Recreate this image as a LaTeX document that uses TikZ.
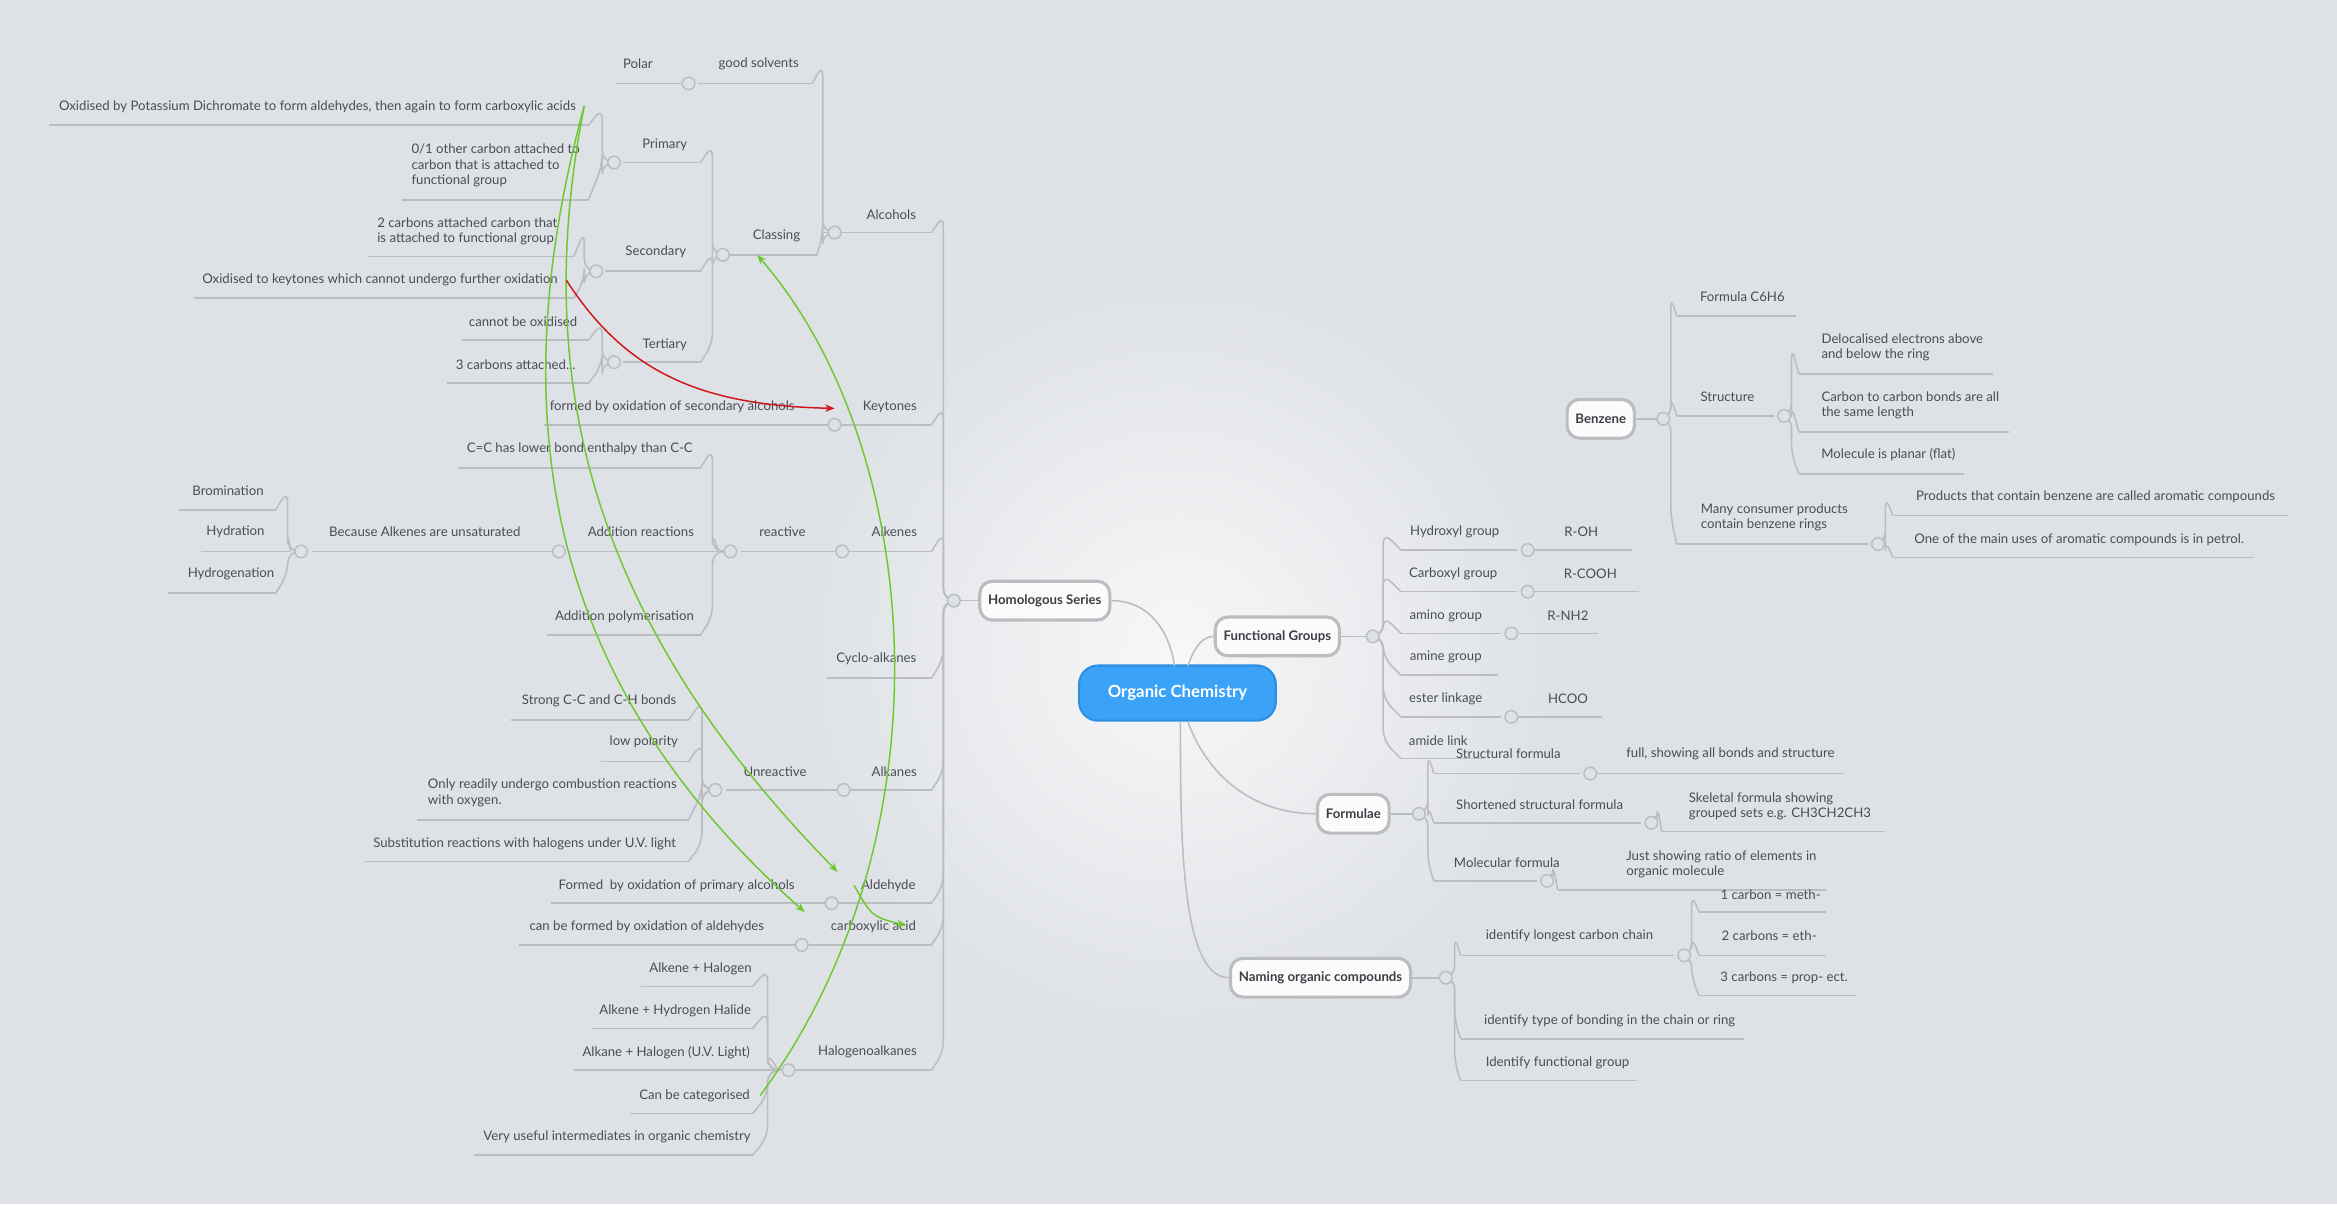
\documentclass[tikz,border=0pt]{standalone}
\usepackage{fontspec}
\setmainfont{Lato}
\usetikzlibrary{arrows.meta}
\definecolor{bg}{HTML}{DEE1E5}
\definecolor{ln}{HTML}{BCBDC1}
\definecolor{tx}{HTML}{4A4D55}
\definecolor{gr}{HTML}{6CC92E}
\definecolor{rd}{HTML}{D0161B}
\definecolor{bl}{HTML}{3AA3F7}
\definecolor{bld}{HTML}{2E8FE0}
\tikzset{
 txt/.style={font=\fontsize{12.6}{14.5}\selectfont, text=tx, inner sep=0pt, align=left},
 ln/.style={draw=ln, line width=1.5pt},
 jn/.style={circle, draw=ln, fill=bg, line width=1.4pt, minimum size=0.42cm, inner sep=0pt},
 br/.style={rounded corners=12pt, draw=ln, fill=white!60!bg!30!white, line width=3pt, font=\bfseries\fontsize{12.6}{14.5}\selectfont, text=tx!80!black, minimum height=1.3cm, inner xsep=8pt},
 ga/.style={draw=gr, line width=1.4pt, -{Stealth[length=9pt,width=7pt]}},
 ra/.style={draw=rd, line width=1.4pt, -{Stealth[length=9pt,width=7pt]}},
}
\newcommand\leaf[8][]{\node[txt,#1] (#2) at (#4,#5) {#3};
 \coordinate (#2L) at (#6,#8); \coordinate (#2R) at (#7,#8); \draw[ln] (#2L) -- (#2R);}
\newcommand\conL[3]{\draw[ln,rounded corners=11pt] (#1) -- (#1 -| #3,0) -- (#2 -| #3,0) -- (#2R);}
\newcommand\conR[3]{\draw[ln,rounded corners=11pt] (#1) -- (#1 -| #3,0) -- (#2 -| #3,0) -- (#2L);}
\begin{document}
\begin{tikzpicture}[x=0.05cm,y=-0.05cm]
\fill[bg] (0,0) rectangle (1568,808);
\useasboundingbox (0,0) rectangle (1568,808);
\shade[inner color=white!75!bg, outer color=bg] (790,440) circle (260);

% ---------- Homologous series (left) ----------
\leaf{alc}{Alcohols}{598}{144}{560}{625}{156}
\leaf{key}{Keytones}{597}{273}{562}{625}{285}
\leaf{alk}{Alkenes}{600}{357}{567}{625}{370}
\leaf{cyc}{Cyclo-alkanes}{588}{442}{555}{625}{455}
\leaf{alka}{Alkanes}{600}{518}{568}{625}{530}
\leaf{ald}{Aldehyde}{596}{594}{560}{625}{606}
\leaf{carb}{carboxylic acid}{586}{622}{540}{625}{634}
\leaf{hal}{Halogenoalkanes}{582}{706}{531}{625}{718}

\leaf{gs}{good solvents}{509}{43}{468}{545}{56}
\leaf{pol}{Polar}{428}{43}{413}{456}{56}
\leaf{cls}{Classing}{521}{158}{490}{548}{171}
\leaf{pri}{Primary}{446}{97}{418}{470}{109}
\leaf{sec}{Secondary}{440}{169}{406}{470}{182}
\leaf{ter}{Tertiary}{446}{231}{418}{470}{243}
\leaf{p1}{Oxidised by Potassium Dichromate to form aldehydes, then again to form carboxylic acids}{213}{72}{33}{395}{84}
\leaf[anchor=west]{p2}{0/1 other carbon attached to\\carbon that is attached to\\functional group}{276}{111}{270}{395}{134}
\leaf[anchor=west]{s1}{2 carbons attached carbon that\\is attached to functional group}{253}{155}{247}{385}{172}
\leaf{s2}{Oxidised to keytones which cannot undergo further oxidation}{255}{188}{130}{385}{200}
\leaf{t1}{cannot be oxidised}{351}{216}{310}{395}{228}
\leaf{t2}{3 carbons attached...}{346}{245}{300}{395}{257}
\leaf{k1}{formed by oxidation of secondary alcohols}{451}{273}{365}{553}{285}

\leaf{rea}{reactive}{525}{357}{497}{558}{370}
\leaf{r1}{C=C has lower bond enthalpy than C-C}{389}{301}{307}{470}{314}
\leaf{r2}{Addition reactions}{430}{357}{382}{482}{370}
\leaf{r3}{Addition polymerisation}{419}{414}{367}{470}{426}
\leaf{bau}{Because Alkenes are unsaturated}{285}{357}{209}{368}{370}
\leaf{b1}{Bromination}{153}{329}{120}{185}{342}
\leaf{b2}{Hydration}{158}{357}{135}{195}{370}
\leaf{b3}{Hydrogenation}{155}{385}{113}{185}{398}

\leaf{unr}{Unreactive}{520}{518}{487}{559}{530}
\leaf{u1}{Strong C-C and C-H bonds}{402}{470}{343}{462}{483}
\leaf{u2}{low polarity}{432}{498}{403}{462}{511}
\leaf[anchor=west]{u3}{Only readily undergo combustion reactions\\with oxygen.}{287}{532}{280}{462}{550}
\leaf{u4}{Substitution reactions with halogens under U.V. light}{352}{566}{245}{462}{578}
\leaf{a1}{Formed \ by oxidation of primary alcohols}{454}{594}{370}{551}{606}
\leaf{c1}{can be formed by oxidation of aldehydes}{434}{622}{348}{531}{634}
\leaf{h1}{Alkene + Halogen}{470}{650}{430}{505}{662}
\leaf{h2}{Alkene + Hydrogen Halide}{453}{678}{397}{505}{690}
\leaf{h3}{Alkane + Halogen (U.V. Light)}{447}{706}{385}{522}{718}
\leaf{h4}{Can be categorised}{466}{735}{423}{505}{747}
\leaf{h5}{Very useful intermediates in organic chemistry}{414}{763}{318}{505}{775}

% junction positions
\coordinate (jHS) at (640,403);
\coordinate (jAlc) at (560,156); \coordinate (jGs) at (462,56); \coordinate (jCls) at (485,171);
\coordinate (jPri) at (412,109); \coordinate (jSec) at (400,182); \coordinate (jTer) at (412,243);
\coordinate (jKey) at (560,285); \coordinate (jAlk) at (565,370); \coordinate (jRea) at (490,370);
\coordinate (jAr) at (375,370); \coordinate (jBau) at (202,370); \coordinate (jAlka) at (566,530);
\coordinate (jUnr) at (480,530); \coordinate (jAld) at (558,606); \coordinate (jCarb) at (538,634);
\coordinate (jHal) at (529,718);

\foreach \c in {alc,key,alk,cyc,alka,ald,carb,hal} {\conL{jHS}{\c}{633}}
\draw[ln] (jAlc) -- (jAlc -| 552,0); \conL{jAlc}{gs}{552} \conL{jAlc}{cls}{552}
\draw[ln] (jGs) -- (polR);
\foreach \c in {pri,sec,ter} {\conL{jCls}{\c}{478}}
\conL{jPri}{p1}{404} \conL{jPri}{p2}{404}
\conL{jSec}{s1}{392} \conL{jSec}{s2}{392}
\conL{jTer}{t1}{404} \conL{jTer}{t2}{404}
\draw[ln] (jKey) -- (k1R);
\draw[ln] (jAlk) -- (reaR);
\foreach \c in {r1,r2,r3} {\conL{jRea}{\c}{478}}
\draw[ln] (jAr) -- (bauR);
\foreach \c in {b1,b2,b3} {\conL{jBau}{\c}{193}}
\draw[ln] (jAlka) -- (unrR);
\foreach \c in {u1,u2,u3,u4} {\conL{jUnr}{\c}{471}}
\draw[ln] (jAld) -- (a1R);
\draw[ln] (jCarb) -- (c1R);
\foreach \c in {h1,h2,h3,h4,h5} {\conL{jHal}{\c}{515}}

% ---------- right side ----------
\leaf{hy}{Hydroxyl group}{976}{357}{940}{1018}{369}
\leaf{hy2}{R-OH}{1061}{357}{1032}{1095}{369}
\leaf{cx}{Carboxyl group}{975}{385}{940}{1018}{397}
\leaf{cx2}{R-COOH}{1067}{385}{1032}{1100}{397}
\leaf{am}{amino group}{970}{413}{940}{1007}{425}
\leaf{am2}{R-NH2}{1052}{413}{1021}{1072}{425}
\leaf{ami}{amine group}{970}{441}{940}{1005}{453}
\leaf{es}{ester linkage}{970}{469}{940}{1007}{481}
\leaf{es2}{HCOO}{1052}{469}{1021}{1075}{481}
\leaf{ad}{amide link}{965}{497}{940}{995}{509}
\coordinate (jFG) at (921,427);
\foreach \c in {hy,cx,am,ami,es,ad} {\conR{jFG}{\c}{928}}
\coordinate (jHy) at (1025,369); \coordinate (jCx) at (1025,397);
\coordinate (jAm) at (1014,425); \coordinate (jEs) at (1014,481);
\draw[ln] (jHy) -- (hy2L); \draw[ln] (jCx) -- (cx2L); \draw[ln] (jAm) -- (am2L); \draw[ln] (jEs) -- (es2L);

\leaf{sf}{Structural formula}{1012}{506}{962}{1060}{519}
\leaf{sf2}{full, showing all bonds and structure}{1161}{506}{1075}{1237}{519}
\leaf{ss}{Shortened structural formula}{1033}{540}{962}{1101}{552}
\leaf[anchor=west]{ss2}{Skeletal formula showing\\grouped sets e.g. CH3CH2CH3}{1133}{541}{1115}{1265}{558}
\leaf{mf}{Molecular formula}{1011}{579}{962}{1031}{591}
\leaf[anchor=west]{mf2}{Just showing ratio of elements in\\organic molecule}{1091}{580}{1045}{1225}{597}
\coordinate (jFo) at (952,546);
\foreach \c in {sf,ss,mf} {\conR{jFo}{\c}{958}}
\coordinate (jSf) at (1067,519); \coordinate (jSs) at (1108,552); \coordinate (jMf) at (1038,591);
\draw[ln] (jSf) -- (sf2L); \conR{jSs}{ss2}{1112} \conR{jMf}{mf2}{1042}

\leaf{nl}{identify longest carbon chain}{1053}{628}{980}{1123}{641}
\leaf{nt}{identify type of bonding in the chain or ring}{1080}{685}{980}{1170}{697}
\leaf{nf}{Identify functional group}{1045}{713}{980}{1098}{725}
\leaf{n1}{1 carbon = meth-}{1188}{600}{1140}{1225}{612}
\leaf{n2}{2 carbons = eth-}{1187}{628}{1140}{1225}{641}
\leaf{n3}{3 carbons = prop- ect.}{1197}{656}{1140}{1245}{668}
\coordinate (jNa) at (970,656); \coordinate (jNl) at (1130,641);
\foreach \c in {nl,nt,nf} {\conR{jNa}{\c}{976}}
\foreach \c in {n1,n2,n3} {\conR{jNl}{\c}{1135}}

\leaf{bf}{Formula C6H6}{1169}{199}{1125}{1205}{212}
\leaf{bs}{Structure}{1159}{266}{1125}{1190}{279}
\leaf[anchor=west]{bm}{Many consumer products\\contain benzene rings}{1141}{347}{1125}{1253}{365}
\leaf[anchor=west]{bs1}{Delocalised electrons above\\and below the ring}{1222}{233}{1207}{1337}{251}
\leaf[anchor=west]{bs2}{Carbon to carbon bonds are all\\the same length}{1222}{272}{1207}{1348}{290}
\leaf{bs3}{Molecule is planar (flat)}{1267}{305}{1207}{1318}{318}
\leaf{bm1}{Products that contain benzene are called aromatic compounds}{1406}{333}{1270}{1535}{346}
\leaf{bm2}{One of the main uses of aromatic compounds is in petrol.}{1395}{362}{1270}{1512}{374}
\coordinate (jBz) at (1116,281); \coordinate (jBs) at (1197,279); \coordinate (jBm) at (1260,365);
\foreach \c in {bf,bs,bm} {\conR{jBz}{\c}{1121}}
\foreach \c in {bs1,bs2,bs3} {\conR{jBs}{\c}{1202}}
\foreach \c in {bm1,bm2} {\conR{jBm}{\c}{1265}}

% ---------- main nodes ----------
\node[rounded corners=18pt, fill=bl, draw=bld, line width=2pt, minimum width=6.6cm, minimum height=1.85cm, text=white, font=\bfseries\fontsize{16}{19}\selectfont] (OC) at (790,465) {Organic Chemistry};
\node[br] (HS) at (701,403) {Homologous Series};
\node[br] (FG) at (857,427) {Functional Groups};
\node[br] (FO) at (908,546) {Formulae};
\node[br] (NA) at (886,656) {Naming organic compounds};
\node[br] (BZ) at (1074,281) {Benzene};

\draw[ln] (HS.east) .. controls (775,403) and (786,430) .. (788,447);
\draw[ln] (FG.west) .. controls (805,427) and (800,438) .. (797,447);
\draw[ln] (OC.south -| 797,0) .. controls (810,520) and (840,546) .. (FO.west);
\draw[ln] (OC.south -| 792,0) .. controls (792,560) and (792,656) .. (NA.west);
\draw[ln] (HS.west) -- (jHS); \draw[ln] (FG.east) -- (jFG); \draw[ln] (FO.east) -- (jFo);
\draw[ln] (NA.east) -- (jNa); \draw[ln] (BZ.east) -- (jBz);

% junction circles
\foreach \j in {jHS,jAlc,jGs,jCls,jPri,jSec,jTer,jKey,jAlk,jRea,jAr,jBau,jAlka,jUnr,jAld,jCarb,jHal,
  jFG,jHy,jCx,jAm,jEs,jFo,jSf,jSs,jMf,jNa,jNl,jBz,jBs,jBm} {\node[jn] at (\j) {};}

% ---------- relation arrows ----------
\coordinate (g0) at (392,71);
\coordinate (gA) at (540,612);
\coordinate (gB) at (562,585);
\draw[ga] (g0) .. controls (330,300) and (380,470) .. (gA);
\draw[ga] (g0) .. controls (355,260) and (400,420) .. (gB);
\coordinate (g1) at (510,735); \coordinate (g2) at (508,171);
\draw[ga] (g1) .. controls (640,560) and (620,300) .. (g2);
\coordinate (g3) at (573,594); \coordinate (g4) at (608,621);
\draw[ga] (g3) .. controls (585,615) .. (g4);
\coordinate (r0) at (380,188); \coordinate (r1) at (560,274);
\draw[ra] (r0) .. controls (420,250) and (470,272) .. (r1);
\end{tikzpicture}
\end{document}
